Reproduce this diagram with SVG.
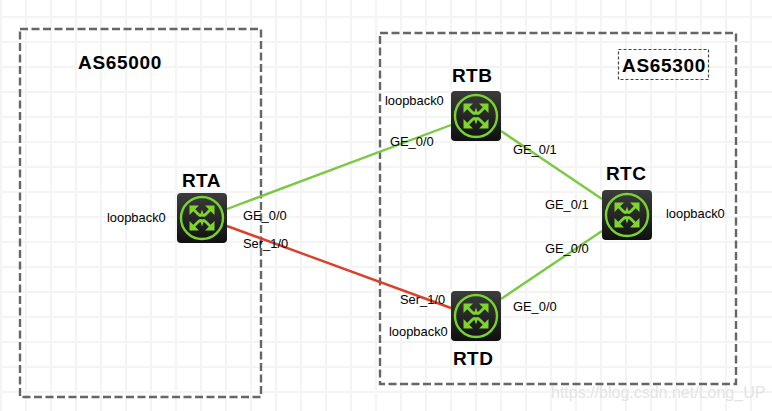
<svg xmlns="http://www.w3.org/2000/svg" width="772" height="411" viewBox="0 0 772 411">
<style>
.grid{stroke:#f4f4f4;stroke-width:2.200;fill:none}
.zone{fill:none;stroke:#666;stroke-width:2.400;stroke-dasharray:8 3.500}
.tag{fill:none;stroke:#444;stroke-width:1.200;stroke-dasharray:3 2}
.name{font:bold 19px "Liberation Sans",Arial,sans-serif;fill:#000;letter-spacing:.4px}
.as{font:bold 19px "Liberation Sans",Arial,sans-serif;fill:#000;letter-spacing:.7px}
.lab{font:12.900px "Liberation Sans",Arial,sans-serif;fill:#000}
.lk{fill:none;stroke-width:2.400}
.g{stroke:#7ac943}.r{stroke:#d8412a}
.mark{font:16px "Liberation Sans",Arial,sans-serif;fill:#e4e4e4}
</style>
<defs>
<linearGradient id="body" x1="0" y1="0" x2="0" y2="1"><stop offset="0" stop-color="#3c3c3c"/><stop offset="1" stop-color="#101010"/></linearGradient>
<g id="router">
<rect width="50" height="50" rx="4" fill="url(#body)"/>
<circle cx="25" cy="25" r="21" fill="none" stroke="#76d42d" stroke-width="2.400"/>
<g fill="#7ed52d">
<path d="M12.500 12.500H22L12.500 22Z"/>
<path d="M37.500 12.500H28L37.500 22Z"/>
<path d="M12.500 37.500H22L12.500 28Z"/>
<path d="M37.500 37.500H28L37.500 28Z"/>
</g>
<path d="M16 16L21 21Q24 24 25 21Q26 24 29 21L34 16M16 34L21 29Q24 26 25 29Q26 26 29 29L34 34" fill="none" stroke="#7ed52d" stroke-width="2.800"/>
</g>
</defs>
<g id="grid" class="grid">
<path d="M1 0V411M26 0V411M51 0V411M76 0V411M101 0V411M126 0V411M151 0V411M176 0V411M201 0V411M226 0V411M251 0V411M276 0V411M301 0V411M326 0V411M351 0V411M376 0V411M401 0V411M426 0V411M451 0V411M476 0V411M501 0V411M526 0V411M551 0V411M576 0V411M601 0V411M626 0V411M651 0V411M676 0V411M701 0V411M726 0V411M751 0V411"/>
<path d="M0 17H772M0 42H772M0 67H772M0 92H772M0 117H772M0 142H772M0 167H772M0 192H772M0 217H772M0 242H772M0 267H772M0 292H772M0 317H772M0 342H772M0 367H772M0 392H772"/>
</g>
<g id="zones">
<rect id="as65000" class="zone" x="20" y="29" width="241" height="368"/>
<rect id="as65300" class="zone" x="380" y="33" width="356" height="351"/>
<rect class="tag" x="618.500" y="49.500" width="90" height="30"/>
<text class="as" x="78" y="69">AS65000</text>
<text class="as" x="622" y="72">AS65300</text>
</g>
<g id="connectors">
<path class="lk g" d="M227 209L451 125"/>
<path class="lk r" d="M227 226L451 308"/>
<path class="lk g" d="M501 131L602 199"/>
<path class="lk g" d="M501 299L602 231"/>
</g>
<g id="RTA"><use href="#router" x="177" y="193"/><text class="name" x="182" y="187">RTA</text><text class="lab" x="107" y="222">loopback0</text><text class="lab" x="243" y="220">GE_0/0</text><text class="lab" x="243" y="248">Ser_1/0</text></g>
<g id="RTB"><use href="#router" x="451" y="91"/><text class="name" x="452" y="82">RTB</text><text class="lab" x="385" y="105">loopback0</text><text class="lab" x="390" y="146">GE_0/0</text><text class="lab" x="513" y="154">GE_0/1</text></g>
<g id="RTC"><use href="#router" x="602" y="190"/><text class="name" x="606" y="180">RTC</text><text class="lab" x="666" y="218">loopback0</text><text class="lab" x="545" y="209">GE_0/1</text><text class="lab" x="545" y="253">GE_0/0</text></g>
<g id="RTD"><use href="#router" x="451" y="291"/><text class="name" x="453" y="365">RTD</text><text class="lab" x="389" y="336">loopback0</text><text class="lab" x="400" y="304">Ser_1/0</text><text class="lab" x="513" y="311">GE_0/0</text></g>
<text class="mark" x="551" y="398">https://blog.csdn.net/Long_UP</text>
</svg>
